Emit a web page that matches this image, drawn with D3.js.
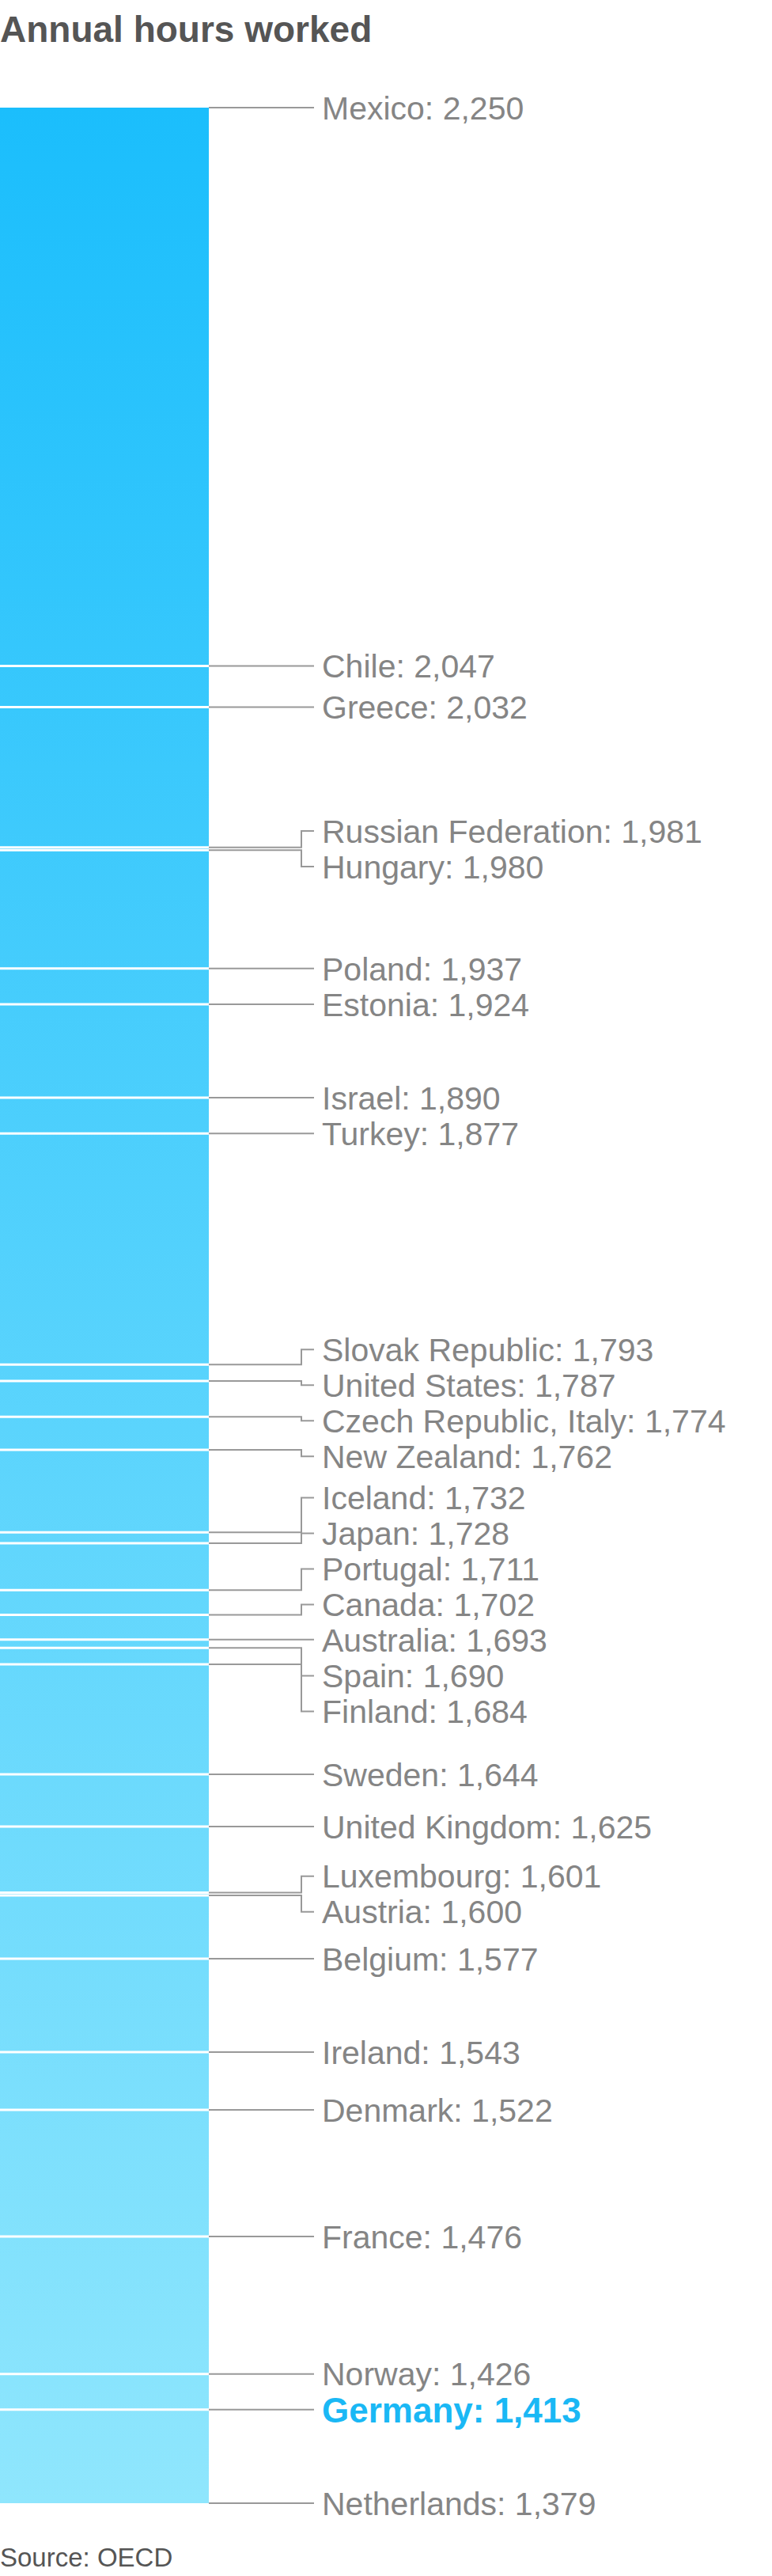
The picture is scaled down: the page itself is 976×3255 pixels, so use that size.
<!DOCTYPE html>
<html><head><meta charset="utf-8">
<script src="https://cdn.jsdelivr.net/npm/d3@7"></script>
<style>body{margin:0;background:#fff}</style>
</head><body>
<svg id="canvas" width="976" height="3255"></svg>
<script>
const countries=["Mexico","Chile","Greece","Russian Federation","Hungary","Poland","Estonia","Israel","Turkey","Slovak Republic","United States","Czech Republic, Italy","New Zealand","Iceland","Japan","Portugal","Canada","Australia","Spain","Finland","Sweden","United Kingdom","Luxembourg","Austria","Belgium","Ireland","Denmark","France","Norway","Germany","Netherlands"]
const hours=[2250,2047,2032,1981,1980,1937,1924,1890,1877,1793,1787,1774,1762,1732,1728,1711,1702,1693,1690,1684,1644,1625,1601,1600,1577,1543,1522,1476,1426,1413,1379]
const highlight="Germany"

let canvas=d3.select("#canvas")
const fmt=d3.format(",")
const y=d3.scaleLinear().domain([d3.max(hours),d3.min(hours)]).range([136,3163])
const barRight=264, elbowX=381, lineEnd=397, textX=407, gap=45

let defs=canvas.append("defs")
let grad=defs.append("linearGradient").attr("id","g").attr("x1",0).attr("x2",0).attr("y1",0).attr("y2",1)
grad.append("stop").attr("offset","0%").attr("stop-color","#1bbefc")
grad.append("stop").attr("offset","100%").attr("stop-color","#8fe6fd")

canvas.append("text").attr("x",0).attr("y",53).text("Annual hours worked")
    .attr("font-family","Liberation Sans, Arial").attr("font-weight","bold").attr("font-size",46).attr("fill","#555")

canvas.append("rect").attr("x",0).attr("y",y(d3.max(hours))).attr("width",barRight)
    .attr("height",y(d3.min(hours))-y(d3.max(hours))).attr("fill","url(#g)")

// white dividers
canvas.selectAll("line.div").data(hours.slice(1,-1)).enter().append("line")
    .attr("x1",0).attr("x2",barRight).attr("y1",d=>y(d)).attr("y2",d=>y(d))
    .attr("stroke","#fff").attr("stroke-width",3)

// label placement: relax overlaps
let pos=hours.map(d=>y(d))
for(let it=0;it<300;it++){
    for(let i=1;i<pos.length;i++){
        let o=gap-(pos[i]-pos[i-1])
        if(o>0){pos[i-1]-=o/2;pos[i]+=o/2}
    }
}
const data=countries.map((c,i)=>({c,v:hours[i],ly:pos[i],vy:y(hours[i])}))

canvas.selectAll("path.lead").data(data).enter().append("path")
    .attr("d",d=>Math.abs(d.ly-d.vy)<2
        ?`M${barRight},${d.vy}H${lineEnd}`
        :`M${barRight},${d.vy}H${elbowX}V${d.ly}H${lineEnd}`)
    .attr("fill","none").attr("stroke","#999").attr("stroke-width",2)

canvas.selectAll("text.lab").data(data).enter().append("text")
    .attr("x",textX).attr("y",d=>d.ly).attr("dy","0.36em")
    .attr("font-family","Liberation Sans, Arial")
    .attr("font-size",d=>d.c===highlight?44:41)
    .attr("font-weight",d=>d.c===highlight?"bold":"normal")
    .attr("fill",d=>d.c===highlight?"#1ab8f5":"#858585")
    .text(d=>`${d.c}: ${fmt(d.v)}`)

canvas.append("text").attr("x",0).attr("y",3243).text("Source: OECD")
    .attr("font-family","Liberation Sans, Arial").attr("font-size",33).attr("fill","#555")
</script>
</body></html>
